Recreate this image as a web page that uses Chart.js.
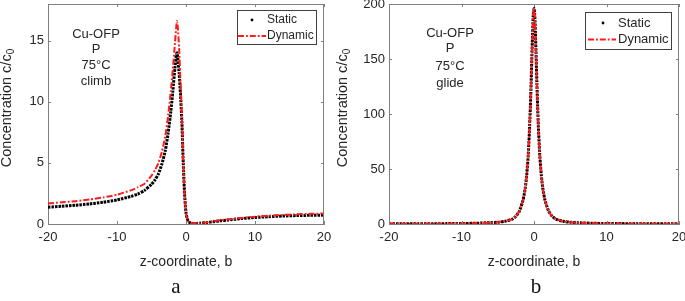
<!DOCTYPE html>
<html><head><meta charset="utf-8">
<script src="https://cdn.jsdelivr.net/npm/chart.js@4/dist/chart.umd.min.js"></script>
<style>
html,body{margin:0;padding:0;background:#fff;}
#wrap{position:relative;width:685px;height:301px;overflow:hidden;background:#fff;}
#c1{position:absolute;left:0;top:0;width:340px;height:301px;}
#c2{position:absolute;left:330px;top:0;width:360px;height:301px;}
</style></head><body>
<div id="wrap"><canvas id="c1" width="340" height="301"></canvas><canvas id="c2" width="360" height="301"></canvas></div>
<script>
// ---- data ----
const seriesNames = ['Static', 'Dynamic'];
const xTicks = [-20, -10, 0, 10, 20];
const yTicksA = [0, 5, 10, 15];
const yTicksB = [0, 50, 100, 150, 200];
const annotationA = ['Cu-OFP', 'P', '75°C', 'climb'];
const annotationB = ['Cu-OFP', 'P', '75°C', 'glide'];

// panel a: climb
const zA = [-20, -18, -16, -14, -12, -10, -8, -7, -6, -5, -4.5, -4, -3.5, -3, -2.6, -2.2, -1.9, -1.6, -1.4, -1.3, -1.2, -1.0, -0.8, -0.6, -0.4, -0.2, 0, 0.2, 0.4, 0.7, 1, 1.5, 2, 3, 4, 5, 6, 8, 10, 12, 14, 16, 18, 20];
const staticA = [1.38, 1.45, 1.53, 1.64, 1.78, 1.97, 2.25, 2.45, 2.75, 3.25, 3.6, 4.1, 4.9, 6.0, 7.4, 9.2, 10.9, 12.8, 13.8, 14.0, 13.6, 12.4, 10.6, 8.4, 5.0, 2.4, 0.9, 0.4, 0.18, 0.08, 0.05, 0.05, 0.07, 0.12, 0.19, 0.26, 0.32, 0.44, 0.53, 0.6, 0.65, 0.69, 0.71, 0.73];
const dynamicA = [1.68, 1.77, 1.87, 2.0, 2.17, 2.4, 2.75, 3.0, 3.3, 3.95, 4.4, 5.0, 5.9, 7.2, 8.8, 10.9, 12.7, 14.8, 16.2, 16.6, 16.2, 14.4, 11.6, 8.9, 5.0, 2.4, 0.9, 0.35, 0.16, 0.08, 0.06, 0.06, 0.08, 0.14, 0.22, 0.3, 0.37, 0.5, 0.6, 0.68, 0.74, 0.79, 0.83, 0.86];

// panel b: glide
const zB = [-20, -18, -16, -14, -12, -10, -8, -6, -5, -4, -3, -2.5, -2, -1.5, -1.2, -1, -0.8, -0.6, -0.5, -0.4, -0.3, -0.2, -0.1, 0, 0.1, 0.2, 0.3, 0.4, 0.5, 0.6, 0.8, 1, 1.2, 1.5, 2, 2.5, 3, 4, 5, 6, 8, 10, 12, 14, 16, 18, 20];
const staticB = [0.15, 0.18, 0.22, 0.27, 0.35, 0.45, 0.7, 1.2, 1.6, 2.5, 4.5, 7.0, 12.0, 22.0, 33.0, 45.0, 62.0, 89.0, 107, 128, 151, 173, 190, 196, 190, 173, 151, 128, 107, 89.0, 62.0, 45.0, 33.0, 22.0, 12.0, 7.0, 4.5, 2.5, 1.6, 1.2, 0.7, 0.45, 0.35, 0.27, 0.22, 0.18, 0.15];
const dynamicB = [0.15, 0.18, 0.22, 0.27, 0.35, 0.45, 0.7, 1.2, 1.6, 2.5, 4.5, 7.0, 12.0, 22.0, 33.0, 45.0, 62.0, 89.0, 107, 128, 151, 173, 190, 196, 190, 173, 151, 128, 107, 89.0, 62.0, 45.0, 33.0, 22.0, 12.0, 7.0, 4.5, 2.5, 1.6, 1.2, 0.7, 0.45, 0.35, 0.27, 0.22, 0.18, 0.15];

// ---- styling ----
const SANS = '"Liberation Sans", Arial, sans-serif';
const SERIF = '"Liberation Serif", "Times New Roman", serif';
const TEXT = '#262626';
const AXIS = '#7f7f7f';
const RED = '#ff1a1a';
const RED_DASH = [6, 2, 1.8, 2];
const BLACK_DASH = [2.5, 1];

function decor(o) {
  return {
    id: 'decor',
    afterDraw(chart) {
      const { ctx, chartArea: a, scales: { x, y } } = chart;
      ctx.save();
      ctx.strokeStyle = AXIS; ctx.lineWidth = 1; ctx.setLineDash([]);
      ctx.beginPath();
      ctx.moveTo(a.left, a.top + 0.5); ctx.lineTo(a.right, a.top + 0.5);
      ctx.moveTo(a.right - 0.5, a.top); ctx.lineTo(a.right - 0.5, a.bottom);
      const TL = 3;
      x.ticks.forEach(t => {
        const p = Math.round(x.getPixelForValue(t.value)) + 0.5;
        ctx.moveTo(p, a.bottom); ctx.lineTo(p, a.bottom - TL);
        ctx.moveTo(p, a.top); ctx.lineTo(p, a.top + TL);
      });
      y.ticks.forEach(t => {
        const p = Math.round(y.getPixelForValue(t.value)) + 0.5;
        ctx.moveTo(a.left, p); ctx.lineTo(a.left + TL, p);
        ctx.moveTo(a.right, p); ctx.lineTo(a.right - TL, p);
      });
      ctx.stroke();

      ctx.fillStyle = TEXT;
      ctx.font = '13px ' + SANS;
      ctx.textAlign = 'center'; ctx.textBaseline = 'middle';
      o.annotation.forEach((s, i) => ctx.fillText(s, a.left + o.annoDX, a.top + o.annoY[i]));

      const L = o.legend;
      const bx = a.right - L.dr - L.w, by = a.top + L.dt;
      ctx.fillStyle = '#fff';
      ctx.fillRect(bx, by, L.w, L.h);
      ctx.strokeStyle = '#404040'; ctx.lineWidth = 1;
      ctx.strokeRect(Math.round(bx) + 0.5, Math.round(by) + 0.5, L.w, L.h);
      ctx.fillStyle = '#000';
      ctx.beginPath(); ctx.arc(bx + L.dot, by + L.y1, 1.4, 0, Math.PI * 2); ctx.fill();
      ctx.strokeStyle = RED; ctx.lineWidth = 2; ctx.setLineDash(RED_DASH);
      ctx.beginPath(); ctx.moveTo(bx + L.l0, by + L.y2); ctx.lineTo(bx + L.l1, by + L.y2); ctx.stroke();
      ctx.setLineDash([]);
      ctx.fillStyle = TEXT;
      ctx.font = L.fs + 'px ' + SANS;
      ctx.textAlign = 'left'; ctx.textBaseline = 'middle';
      ctx.fillText(seriesNames[0], bx + L.tx, by + L.y1);
      ctx.fillText(seriesNames[1], bx + L.tx, by + L.y2);

      ctx.save();
      const cy = (a.top + a.bottom) / 2 - 6;
      ctx.translate(o.yTitleX, cy);
      ctx.rotate(-Math.PI / 2);
      ctx.font = '14.5px ' + SANS;
      const main = 'Concentration c/c';
      const w1 = ctx.measureText(main).width;
      ctx.font = '10px ' + SANS;
      const w2 = ctx.measureText('0').width;
      const start = -(w1 + w2) / 2;
      ctx.textAlign = 'left'; ctx.textBaseline = 'middle';
      ctx.font = '14.5px ' + SANS;
      ctx.fillText(main, start, 0);
      ctx.font = '10px ' + SANS;
      ctx.fillText('0', start + w1, 4.5);
      ctx.restore();

      ctx.font = '21px ' + SERIF;
      ctx.textAlign = 'center'; ctx.textBaseline = 'alphabetic';
      ctx.fillStyle = '#111';
      ctx.fillText(o.letter, (a.left + a.right) / 2 + o.letterDX, 293);
      ctx.restore();
    }
  };
}

function makeChart(id, o) {
  const ds = (zs, vs) => zs.map((z, i) => ({ x: z, y: vs[i] }));
  return new Chart(document.getElementById(id), {
    type: 'line',
    data: {
      datasets: [
        { label: seriesNames[1], data: ds(o.z, o.dyn), borderColor: RED, borderWidth: 2, borderDash: RED_DASH,
          pointRadius: 0, tension: 0.2, order: 0 },
        { label: seriesNames[0], data: ds(o.z, o.stat), borderColor: '#000', borderWidth: 3, borderDash: BLACK_DASH,
          pointRadius: 0, tension: 0.2, order: 1 }
      ]
    },
    options: {
      responsive: false, animation: false, devicePixelRatio: 1,
      layout: { padding: { top: 4, right: o.padRight, left: 0, bottom: 0 } },
      plugins: { legend: { display: false }, tooltip: { enabled: false }, title: { display: false } },
      scales: {
        x: {
          type: 'linear', min: -20, max: 20,
          afterBuildTicks: s => { s.ticks = xTicks.map(v => ({ value: v })); },
          afterFit: s => { s.height = 77; s.paddingLeft = 0; s.paddingRight = 0; },
          ticks: { font: { family: SANS, size: 13 }, color: TEXT, padding: 6, maxRotation: 0, autoSkip: false },
          grid: { display: true, drawOnChartArea: false, drawTicks: false },
          border: { display: true, color: AXIS, width: 1 },
          title: { display: true, text: 'z-coordinate, b', font: { family: SANS, size: 14 }, color: TEXT,
                   padding: { top: 0, bottom: 30 } }
        },
        y: {
          type: 'linear', min: 0, max: o.yMax,
          afterBuildTicks: s => { s.ticks = o.yTicks.map(v => ({ value: v })); },
          afterFit: s => { s.width = o.yWidth; s.paddingTop = 0; s.paddingBottom = 0; },
          ticks: { font: { family: SANS, size: 13 }, color: TEXT, padding: 4, autoSkip: false },
          grid: { display: true, drawOnChartArea: false, drawTicks: false },
          border: { display: true, color: AXIS, width: 1 },
          title: { display: false }
        }
      }
    },
    plugins: [decor(o)]
  });
}

makeChart('c1', {
  z: zA, stat: staticA, dyn: dynamicA, yMax: 18, yTicks: yTicksA, yWidth: 48, padRight: 16,
  annotation: annotationA, annoDX: 48, annoY: [30, 45.5, 61.5, 77.5],
  legend: { w: 79, h: 34, dr: 8, dt: 6, y1: 10, y2: 26, dot: 15, l0: 1, l1: 29, tx: 30, fs: 12 },
  yTitleX: 7, letter: 'a', letterDX: -10
});
makeChart('c2', {
  z: zB, stat: staticB, dyn: dynamicB, yMax: 200, yTicks: yTicksB, yWidth: 59, padRight: 11,
  annotation: annotationB, annoDX: 61, annoY: [29.5, 44.5, 62.5, 79],
  legend: { w: 86, h: 37, dr: 8, dt: 8, y1: 11, y2: 27.5, dot: 18, l0: 3, l1: 31, tx: 33, fs: 13 },
  yTitleX: 13, letter: 'b', letterDX: 2
});
</script>
</body></html>
